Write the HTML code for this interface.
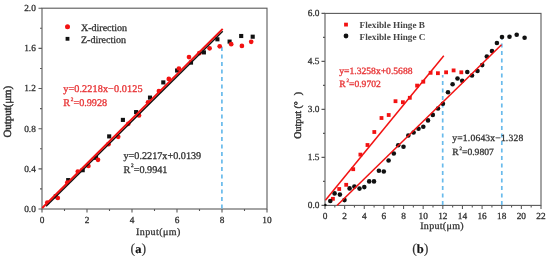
<!DOCTYPE html><html><head><meta charset="utf-8"><style>html,body{margin:0;padding:0;background:#fff;width:550px;height:257px;overflow:hidden}svg{display:block;text-rendering:geometricPrecision}text{font-family:"Liberation Serif",serif;fill:#333333;stroke:#333333;stroke-width:0.3px}.r{fill:#e8383a;stroke:#e8383a;stroke-width:0.35px}</style></head><body>
<svg width="550" height="257" viewBox="0 0 550 257">
<rect x="42.0" y="8.2" width="225.00" height="200.80" fill="none" stroke="#5a5a5a" stroke-width="1.1"/>
<path d="M42.00,209.0v3.5M87.00,209.0v3.5M132.00,209.0v3.5M177.00,209.0v3.5M222.00,209.0v3.5M267.00,209.0v3.5M64.50,209.0v2M109.50,209.0v2M154.50,209.0v2M199.50,209.0v2M244.50,209.0v2M42.0,209.00h-3.5M42.0,168.84h-3.5M42.0,128.68h-3.5M42.0,88.52h-3.5M42.0,48.36h-3.5M42.0,8.20h-3.5M42.0,188.92h-2M42.0,148.76h-2M42.0,108.60h-2M42.0,68.44h-2M42.0,28.28h-2" stroke="#5a5a5a" stroke-width="1.1" fill="none"/>
<text x="42.00" y="222.6" text-anchor="middle" font-size="9.3">0</text>
<text x="87.00" y="222.6" text-anchor="middle" font-size="9.3">2</text>
<text x="132.00" y="222.6" text-anchor="middle" font-size="9.3">4</text>
<text x="177.00" y="222.6" text-anchor="middle" font-size="9.3">6</text>
<text x="222.00" y="222.6" text-anchor="middle" font-size="9.3">8</text>
<text x="267.00" y="222.6" text-anchor="middle" font-size="9.3">10</text>
<text x="35.8" y="211.85" text-anchor="end" font-size="9.3">0.0</text>
<text x="35.8" y="171.69" text-anchor="end" font-size="9.3">0.4</text>
<text x="35.8" y="131.53" text-anchor="end" font-size="9.3">0.8</text>
<text x="35.8" y="91.37" text-anchor="end" font-size="9.3">1.2</text>
<text x="35.8" y="51.21" text-anchor="end" font-size="9.3">1.6</text>
<text x="35.8" y="11.05" text-anchor="end" font-size="9.3">2.0</text>
<rect x="325.0" y="13.4" width="216.00" height="192.00" fill="none" stroke="#5a5a5a" stroke-width="1.1"/>
<path d="M325.00,205.4v3.5M344.64,205.4v3.5M364.27,205.4v3.5M383.91,205.4v3.5M403.55,205.4v3.5M423.18,205.4v3.5M442.82,205.4v3.5M462.45,205.4v3.5M482.09,205.4v3.5M501.73,205.4v3.5M521.36,205.4v3.5M541.00,205.4v3.5M334.82,205.4v2M354.45,205.4v2M374.09,205.4v2M393.73,205.4v2M413.36,205.4v2M433.00,205.4v2M452.64,205.4v2M472.27,205.4v2M491.91,205.4v2M511.55,205.4v2M531.18,205.4v2M325.0,205.40h-3.5M325.0,157.40h-3.5M325.0,109.40h-3.5M325.0,61.40h-3.5M325.0,13.40h-3.5M325.0,181.40h-2M325.0,133.40h-2M325.0,85.40h-2M325.0,37.40h-2" stroke="#5a5a5a" stroke-width="1.1" fill="none"/>
<text x="325.00" y="219.1" text-anchor="middle" font-size="9.3">0</text>
<text x="344.64" y="219.1" text-anchor="middle" font-size="9.3">2</text>
<text x="364.27" y="219.1" text-anchor="middle" font-size="9.3">4</text>
<text x="383.91" y="219.1" text-anchor="middle" font-size="9.3">6</text>
<text x="403.55" y="219.1" text-anchor="middle" font-size="9.3">8</text>
<text x="423.18" y="219.1" text-anchor="middle" font-size="9.3">10</text>
<text x="442.82" y="219.1" text-anchor="middle" font-size="9.3">12</text>
<text x="462.45" y="219.1" text-anchor="middle" font-size="9.3">14</text>
<text x="482.09" y="219.1" text-anchor="middle" font-size="9.3">16</text>
<text x="501.73" y="219.1" text-anchor="middle" font-size="9.3">18</text>
<text x="521.36" y="219.1" text-anchor="middle" font-size="9.3">20</text>
<text x="541.00" y="219.1" text-anchor="middle" font-size="9.3">22</text>
<text x="319.4" y="208.25" text-anchor="end" font-size="9.3">0.0</text>
<text x="319.4" y="160.25" text-anchor="end" font-size="9.3">1.5</text>
<text x="319.4" y="112.25" text-anchor="end" font-size="9.3">3.0</text>
<text x="319.4" y="64.25" text-anchor="end" font-size="9.3">4.5</text>
<text x="319.4" y="16.25" text-anchor="end" font-size="9.3">6.0</text>
<line x1="221.9" y1="208.6" x2="221.9" y2="43.5" stroke="#68baec" stroke-width="1.7" stroke-dasharray="4,3.5"/>
<rect x="53.75" y="194.35" width="4.1" height="4.1" fill="#111111"/>
<rect x="66.15" y="178.05" width="4.1" height="4.1" fill="#111111"/>
<rect x="80.65" y="168.15" width="4.1" height="4.1" fill="#111111"/>
<rect x="93.95" y="155.75" width="4.1" height="4.1" fill="#111111"/>
<rect x="107.15" y="134.35" width="4.1" height="4.1" fill="#111111"/>
<rect x="120.85" y="117.85" width="4.1" height="4.1" fill="#111111"/>
<rect x="134.05" y="110.05" width="4.1" height="4.1" fill="#111111"/>
<rect x="147.95" y="95.55" width="4.1" height="4.1" fill="#111111"/>
<rect x="161.25" y="80.35" width="4.1" height="4.1" fill="#111111"/>
<rect x="175.05" y="68.45" width="4.1" height="4.1" fill="#111111"/>
<rect x="188.95" y="60.55" width="4.1" height="4.1" fill="#111111"/>
<rect x="201.85" y="50.35" width="4.1" height="4.1" fill="#111111"/>
<rect x="215.35" y="37.25" width="4.1" height="4.1" fill="#111111"/>
<rect x="227.55" y="39.55" width="4.1" height="4.1" fill="#111111"/>
<rect x="239.15" y="33.95" width="4.1" height="4.1" fill="#111111"/>
<rect x="250.65" y="34.65" width="4.1" height="4.1" fill="#111111"/>
<circle cx="47.3" cy="202.5" r="2.35" fill="#f21212"/>
<circle cx="57.8" cy="198" r="2.35" fill="#f21212"/>
<circle cx="67.3" cy="182.6" r="2.35" fill="#f21212"/>
<circle cx="77.8" cy="171.5" r="2.35" fill="#f21212"/>
<circle cx="88.4" cy="166" r="2.35" fill="#f21212"/>
<circle cx="98" cy="159.8" r="2.35" fill="#f21212"/>
<circle cx="108.5" cy="144.2" r="2.35" fill="#f21212"/>
<circle cx="118.2" cy="136.8" r="2.35" fill="#f21212"/>
<circle cx="128.3" cy="123.8" r="2.35" fill="#f21212"/>
<circle cx="139" cy="115.4" r="2.35" fill="#f21212"/>
<circle cx="148" cy="102.3" r="2.35" fill="#f21212"/>
<circle cx="158.9" cy="91.1" r="2.35" fill="#f21212"/>
<circle cx="168.8" cy="78.9" r="2.35" fill="#f21212"/>
<circle cx="178.9" cy="68.5" r="2.35" fill="#f21212"/>
<circle cx="189" cy="57.1" r="2.35" fill="#f21212"/>
<circle cx="199.3" cy="53.2" r="2.35" fill="#f21212"/>
<circle cx="209.6" cy="48.3" r="2.35" fill="#f21212"/>
<circle cx="219.7" cy="46.3" r="2.35" fill="#f21212"/>
<circle cx="231.2" cy="44.2" r="2.35" fill="#f21212"/>
<circle cx="241.9" cy="45.9" r="2.35" fill="#f21212"/>
<circle cx="251.2" cy="41.8" r="2.35" fill="#f21212"/>
<line x1="46.1" y1="206.3" x2="222.7" y2="31.2" stroke="#111111" stroke-width="1.5"/>
<line x1="42.2" y1="208.0" x2="222.7" y2="28.9" stroke="#f21212" stroke-width="2"/>
<circle cx="67.5" cy="26.7" r="2.5" fill="#f21212"/>
<rect x="65.6" y="36.9" width="3.8" height="3.8" fill="#111111"/>
<text x="81" y="30.7" font-size="10">X-direction</text>
<text x="81" y="42.7" font-size="10">Z-direction</text>
<text x="63.2" y="92.2" font-size="10.2" class="r" textLength="79.3" lengthAdjust="spacing">y=0.2218x−0.0125</text>
<text x="63.2" y="105.8" font-size="10.2" class="r">R<tspan font-size="5.2" dx="0.8" dy="-5.3">2</tspan><tspan dy="5.3">=0.9928</tspan></text>
<text x="123.5" y="158.9" font-size="10.2">y=0.2217x+0.0139</text>
<text x="123.5" y="172.5" font-size="10.2">R<tspan font-size="5.2" dx="0.8" dy="-5.3">2</tspan><tspan dy="5.3">=0.9941</tspan></text>
<text x="158.1" y="235.4" text-anchor="middle" font-size="10" textLength="44.3" lengthAdjust="spacing">Input(μm)</text>
<text transform="translate(11.3,137.6) rotate(-90)" font-size="11" textLength="51.8" style="stroke-width:0.45" lengthAdjust="spacing">Output(μm)</text>
<text x="138.3" y="253" text-anchor="middle" font-size="14" style="stroke-width:0.1">(<tspan font-weight="bold" font-size="12.5" style="fill:#141414;stroke:#141414;stroke-width:0.2">a</tspan>)</text>
<line x1="442.7" y1="205" x2="442.7" y2="75" stroke="#68baec" stroke-width="1.7" stroke-dasharray="4,3.5"/>
<line x1="501.8" y1="205" x2="501.8" y2="39.5" stroke="#68baec" stroke-width="1.7" stroke-dasharray="4,3.5"/>
<rect x="331.00" y="196.90" width="3.8" height="3.8" fill="#f21212"/>
<rect x="337.30" y="187.10" width="3.8" height="3.8" fill="#f21212"/>
<rect x="344.30" y="182.90" width="3.8" height="3.8" fill="#f21212"/>
<rect x="351.30" y="167.30" width="3.8" height="3.8" fill="#f21212"/>
<rect x="358.50" y="152.70" width="3.8" height="3.8" fill="#f21212"/>
<rect x="365.60" y="143.10" width="3.8" height="3.8" fill="#f21212"/>
<rect x="372.40" y="130.10" width="3.8" height="3.8" fill="#f21212"/>
<rect x="379.60" y="116.10" width="3.8" height="3.8" fill="#f21212"/>
<rect x="386.80" y="113.10" width="3.8" height="3.8" fill="#f21212"/>
<rect x="393.60" y="99.30" width="3.8" height="3.8" fill="#f21212"/>
<rect x="401.00" y="100.30" width="3.8" height="3.8" fill="#f21212"/>
<rect x="407.90" y="95.90" width="3.8" height="3.8" fill="#f21212"/>
<rect x="415.20" y="83.70" width="3.8" height="3.8" fill="#f21212"/>
<rect x="421.40" y="79.80" width="3.8" height="3.8" fill="#f21212"/>
<rect x="428.70" y="70.90" width="3.8" height="3.8" fill="#f21212"/>
<rect x="436.00" y="71.30" width="3.8" height="3.8" fill="#f21212"/>
<rect x="444.20" y="70.40" width="3.8" height="3.8" fill="#f21212"/>
<rect x="451.70" y="68.50" width="3.8" height="3.8" fill="#f21212"/>
<rect x="459.40" y="70.40" width="3.8" height="3.8" fill="#f21212"/>
<circle cx="330.3" cy="201" r="2.3" fill="#111111"/>
<circle cx="334.6" cy="193.4" r="2.3" fill="#111111"/>
<circle cx="339.9" cy="194.6" r="2.3" fill="#111111"/>
<circle cx="344.5" cy="200.1" r="2.3" fill="#111111"/>
<circle cx="349.6" cy="188.4" r="2.3" fill="#111111"/>
<circle cx="354.4" cy="186.6" r="2.3" fill="#111111"/>
<circle cx="359.5" cy="188.6" r="2.3" fill="#111111"/>
<circle cx="364.3" cy="187.1" r="2.3" fill="#111111"/>
<circle cx="369.2" cy="181.4" r="2.3" fill="#111111"/>
<circle cx="374" cy="181.4" r="2.3" fill="#111111"/>
<circle cx="378.9" cy="170.7" r="2.3" fill="#111111"/>
<circle cx="383.8" cy="171.5" r="2.3" fill="#111111"/>
<circle cx="388.6" cy="160.5" r="2.3" fill="#111111"/>
<circle cx="393.8" cy="153.5" r="2.3" fill="#111111"/>
<circle cx="398.2" cy="145.3" r="2.3" fill="#111111"/>
<circle cx="403.5" cy="146.8" r="2.3" fill="#111111"/>
<circle cx="408.3" cy="135.5" r="2.3" fill="#111111"/>
<circle cx="413.6" cy="132.5" r="2.3" fill="#111111"/>
<circle cx="418.5" cy="128.8" r="2.3" fill="#111111"/>
<circle cx="423.3" cy="126.8" r="2.3" fill="#111111"/>
<circle cx="428" cy="120.4" r="2.3" fill="#111111"/>
<circle cx="432.8" cy="114.9" r="2.3" fill="#111111"/>
<circle cx="438" cy="108.5" r="2.3" fill="#111111"/>
<circle cx="442.9" cy="103.8" r="2.3" fill="#111111"/>
<circle cx="448" cy="92.3" r="2.3" fill="#111111"/>
<circle cx="452.6" cy="84.2" r="2.3" fill="#111111"/>
<circle cx="457.5" cy="78.5" r="2.3" fill="#111111"/>
<circle cx="462.2" cy="80.7" r="2.3" fill="#111111"/>
<circle cx="467.3" cy="72" r="2.3" fill="#111111"/>
<circle cx="472" cy="75.5" r="2.3" fill="#111111"/>
<circle cx="477.5" cy="71" r="2.3" fill="#111111"/>
<circle cx="482.2" cy="65.1" r="2.3" fill="#111111"/>
<circle cx="486.8" cy="56.5" r="2.3" fill="#111111"/>
<circle cx="492" cy="51.1" r="2.3" fill="#111111"/>
<circle cx="496.9" cy="43" r="2.3" fill="#111111"/>
<circle cx="502" cy="37.1" r="2.3" fill="#111111"/>
<circle cx="509.5" cy="36.7" r="2.3" fill="#111111"/>
<circle cx="516.7" cy="34.8" r="2.3" fill="#111111"/>
<circle cx="524.6" cy="37.8" r="2.3" fill="#111111"/>
<circle cx="325.4" cy="205" r="1.2" fill="#111111"/>
<line x1="325.4" y1="200.3" x2="443.8" y2="55.8" stroke="#f21212" stroke-width="1.5"/>
<line x1="337" y1="205.5" x2="501.5" y2="44.8" stroke="#f21212" stroke-width="1.5"/>
<rect x="344.1" y="22.7" width="3.8" height="3.8" fill="#f21212"/>
<circle cx="346" cy="36" r="2.4" fill="#111111"/>
<text x="359.6" y="28.2" font-size="9.2" font-weight="bold" style="stroke-width:0;fill:#454545">Flexible Hinge B</text>
<text x="359.6" y="39.9" font-size="9.2" font-weight="bold" style="stroke-width:0;fill:#454545">Flexible Hinge C</text>
<text x="339.3" y="73.8" font-size="9.6" class="r">y=1.3258x+0.5688</text>
<text x="339.3" y="87.4" font-size="9.6" class="r">R<tspan font-size="5" dx="0.8" dy="-5.2">2</tspan><tspan dy="5.2">=0.9702</tspan></text>
<text x="452.3" y="141.3" font-size="9.6" textLength="70.9" lengthAdjust="spacing">y=1.0643x−1.328</text>
<text x="452.3" y="154.9" font-size="9.6">R<tspan font-size="5" dx="0.8" dy="-5.2">2</tspan><tspan dy="5.2">=0.9807</tspan></text>
<text x="441.9" y="229.3" text-anchor="middle" font-size="10" textLength="43.5" lengthAdjust="spacing">Input(μm)</text>
<text transform="translate(300.8,138.8) rotate(-90)" font-size="10" style="stroke-width:0.45">Output (°<tspan dx="6">)</tspan></text>
<text x="420.3" y="253" text-anchor="middle" font-size="14" style="stroke-width:0.1">(<tspan font-weight="bold" font-size="12.5" style="fill:#141414;stroke:#141414;stroke-width:0.2">b</tspan>)</text>
</svg></body></html>
